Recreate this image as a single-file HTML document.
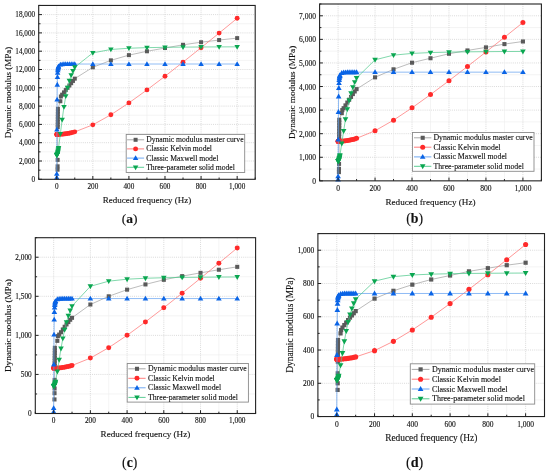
<!DOCTYPE html>
<html><head><meta charset="utf-8"><title>Dynamic modulus figure</title>
<style>
html,body{margin:0;padding:0;background:#fff;}
body{width:550px;height:472px;overflow:hidden;}
svg{display:block;}
.t{font-family:"Liberation Serif","Times New Roman",serif;fill:#111;stroke:#111;stroke-width:0.12px;}
</style></head><body>
<svg width="550" height="472" viewBox="0 0 550 472">
<rect width="550" height="472" fill="#fff"/>
<line x1="38.7" y1="170.15" x2="255.2" y2="170.15" stroke="#ececec" stroke-width="0.6"/>
<line x1="38.7" y1="161" x2="255.2" y2="161" stroke="#d0d0d0" stroke-width="0.8" stroke-dasharray="1 1.1"/>
<line x1="38.7" y1="151.85" x2="255.2" y2="151.85" stroke="#ececec" stroke-width="0.6"/>
<line x1="38.7" y1="142.7" x2="255.2" y2="142.7" stroke="#d0d0d0" stroke-width="0.8" stroke-dasharray="1 1.1"/>
<line x1="38.7" y1="133.55" x2="255.2" y2="133.55" stroke="#ececec" stroke-width="0.6"/>
<line x1="38.7" y1="124.4" x2="255.2" y2="124.4" stroke="#d0d0d0" stroke-width="0.8" stroke-dasharray="1 1.1"/>
<line x1="38.7" y1="115.25" x2="255.2" y2="115.25" stroke="#ececec" stroke-width="0.6"/>
<line x1="38.7" y1="106.1" x2="255.2" y2="106.1" stroke="#d0d0d0" stroke-width="0.8" stroke-dasharray="1 1.1"/>
<line x1="38.7" y1="96.95" x2="255.2" y2="96.95" stroke="#ececec" stroke-width="0.6"/>
<line x1="38.7" y1="87.8" x2="255.2" y2="87.8" stroke="#d0d0d0" stroke-width="0.8" stroke-dasharray="1 1.1"/>
<line x1="38.7" y1="78.65" x2="255.2" y2="78.65" stroke="#ececec" stroke-width="0.6"/>
<line x1="38.7" y1="69.5" x2="255.2" y2="69.5" stroke="#d0d0d0" stroke-width="0.8" stroke-dasharray="1 1.1"/>
<line x1="38.7" y1="60.35" x2="255.2" y2="60.35" stroke="#ececec" stroke-width="0.6"/>
<line x1="38.7" y1="51.2" x2="255.2" y2="51.2" stroke="#d0d0d0" stroke-width="0.8" stroke-dasharray="1 1.1"/>
<line x1="38.7" y1="42.05" x2="255.2" y2="42.05" stroke="#ececec" stroke-width="0.6"/>
<line x1="38.7" y1="32.9" x2="255.2" y2="32.9" stroke="#d0d0d0" stroke-width="0.8" stroke-dasharray="1 1.1"/>
<line x1="38.7" y1="23.75" x2="255.2" y2="23.75" stroke="#ececec" stroke-width="0.6"/>
<line x1="38.7" y1="14.6" x2="255.2" y2="14.6" stroke="#d0d0d0" stroke-width="0.8" stroke-dasharray="1 1.1"/>
<line x1="56.74" y1="5.45" x2="56.74" y2="179.3" stroke="#d0d0d0" stroke-width="0.8" stroke-dasharray="1 1.1"/>
<line x1="74.78" y1="5.45" x2="74.78" y2="179.3" stroke="#ececec" stroke-width="0.6"/>
<line x1="92.83" y1="5.45" x2="92.83" y2="179.3" stroke="#d0d0d0" stroke-width="0.8" stroke-dasharray="1 1.1"/>
<line x1="110.87" y1="5.45" x2="110.87" y2="179.3" stroke="#ececec" stroke-width="0.6"/>
<line x1="128.91" y1="5.45" x2="128.91" y2="179.3" stroke="#d0d0d0" stroke-width="0.8" stroke-dasharray="1 1.1"/>
<line x1="146.95" y1="5.45" x2="146.95" y2="179.3" stroke="#ececec" stroke-width="0.6"/>
<line x1="164.99" y1="5.45" x2="164.99" y2="179.3" stroke="#d0d0d0" stroke-width="0.8" stroke-dasharray="1 1.1"/>
<line x1="183.03" y1="5.45" x2="183.03" y2="179.3" stroke="#ececec" stroke-width="0.6"/>
<line x1="201.07" y1="5.45" x2="201.07" y2="179.3" stroke="#d0d0d0" stroke-width="0.8" stroke-dasharray="1 1.1"/>
<line x1="219.12" y1="5.45" x2="219.12" y2="179.3" stroke="#ececec" stroke-width="0.6"/>
<line x1="237.16" y1="5.45" x2="237.16" y2="179.3" stroke="#d0d0d0" stroke-width="0.8" stroke-dasharray="1 1.1"/>
<polyline points="57.55,169.69 57.61,166.31 57.66,159.9 57.73,127.15 57.76,124.53 57.79,121.92 57.82,119.3 57.84,116.69 57.87,114.07 57.9,111.46 57.92,108.84 60.35,101.25 60.89,96.49 62.15,94.66 63.96,92.38 65.76,90.09 67.57,87.8 69.37,85.51 71.18,83.22 72.98,80.94 74.78,78.65 92.83,67.3 110.87,60.35 128.91,55.13 146.95,51.29 164.99,48 183.03,44.79 201.07,42.23 219.12,40.04 237.16,38.12" fill="none" stroke="#a0a0a0" stroke-width="0.7"/>
<rect x="55.55" y="167.69" width="4" height="4" fill="#5a5a5a"/>
<rect x="55.61" y="164.31" width="4" height="4" fill="#5a5a5a"/>
<rect x="55.66" y="157.9" width="4" height="4" fill="#5a5a5a"/>
<rect x="55.73" y="125.15" width="4" height="4" fill="#5a5a5a"/>
<rect x="55.76" y="122.53" width="4" height="4" fill="#5a5a5a"/>
<rect x="55.79" y="119.92" width="4" height="4" fill="#5a5a5a"/>
<rect x="55.82" y="117.3" width="4" height="4" fill="#5a5a5a"/>
<rect x="55.84" y="114.69" width="4" height="4" fill="#5a5a5a"/>
<rect x="55.87" y="112.07" width="4" height="4" fill="#5a5a5a"/>
<rect x="55.9" y="109.46" width="4" height="4" fill="#5a5a5a"/>
<rect x="55.92" y="106.84" width="4" height="4" fill="#5a5a5a"/>
<rect x="58.35" y="99.25" width="4" height="4" fill="#5a5a5a"/>
<rect x="58.89" y="94.49" width="4" height="4" fill="#5a5a5a"/>
<rect x="60.15" y="92.66" width="4" height="4" fill="#5a5a5a"/>
<rect x="61.96" y="90.38" width="4" height="4" fill="#5a5a5a"/>
<rect x="63.76" y="88.09" width="4" height="4" fill="#5a5a5a"/>
<rect x="65.57" y="85.8" width="4" height="4" fill="#5a5a5a"/>
<rect x="67.37" y="83.51" width="4" height="4" fill="#5a5a5a"/>
<rect x="69.18" y="81.22" width="4" height="4" fill="#5a5a5a"/>
<rect x="70.98" y="78.94" width="4" height="4" fill="#5a5a5a"/>
<rect x="72.78" y="76.65" width="4" height="4" fill="#5a5a5a"/>
<rect x="90.83" y="65.3" width="4" height="4" fill="#5a5a5a"/>
<rect x="108.87" y="58.35" width="4" height="4" fill="#5a5a5a"/>
<rect x="126.91" y="53.13" width="4" height="4" fill="#5a5a5a"/>
<rect x="144.95" y="49.29" width="4" height="4" fill="#5a5a5a"/>
<rect x="162.99" y="46" width="4" height="4" fill="#5a5a5a"/>
<rect x="181.03" y="42.79" width="4" height="4" fill="#5a5a5a"/>
<rect x="199.07" y="40.23" width="4" height="4" fill="#5a5a5a"/>
<rect x="217.12" y="38.04" width="4" height="4" fill="#5a5a5a"/>
<rect x="235.16" y="36.12" width="4" height="4" fill="#5a5a5a"/>
<polyline points="56.75,134.46 56.76,134.46 56.92,134.46 57.1,134.46 57.28,134.46 57.46,134.46 57.64,134.46 57.82,134.46 58,134.45 58.19,134.45 58.37,134.44 58.55,134.44 60.35,134.36 62.15,134.23 63.96,134.04 65.76,133.8 67.57,133.52 69.37,133.18 71.18,132.79 72.98,132.35 74.78,131.87 92.83,124.83 110.87,114.78 128.91,102.91 146.95,89.92 164.99,76.25 183.03,62.14 201.07,47.72 219.12,33.08 237.16,18.3" fill="none" stroke="#ff7070" stroke-width="0.7"/>
<circle cx="56.75" cy="134.46" r="2.45" fill="#ff2a2a"/>
<circle cx="56.76" cy="134.46" r="2.45" fill="#ff2a2a"/>
<circle cx="56.92" cy="134.46" r="2.45" fill="#ff2a2a"/>
<circle cx="57.1" cy="134.46" r="2.45" fill="#ff2a2a"/>
<circle cx="57.28" cy="134.46" r="2.45" fill="#ff2a2a"/>
<circle cx="57.46" cy="134.46" r="2.45" fill="#ff2a2a"/>
<circle cx="57.64" cy="134.46" r="2.45" fill="#ff2a2a"/>
<circle cx="57.82" cy="134.46" r="2.45" fill="#ff2a2a"/>
<circle cx="58" cy="134.45" r="2.45" fill="#ff2a2a"/>
<circle cx="58.19" cy="134.45" r="2.45" fill="#ff2a2a"/>
<circle cx="58.37" cy="134.44" r="2.45" fill="#ff2a2a"/>
<circle cx="58.55" cy="134.44" r="2.45" fill="#ff2a2a"/>
<circle cx="60.35" cy="134.36" r="2.45" fill="#ff2a2a"/>
<circle cx="62.15" cy="134.23" r="2.45" fill="#ff2a2a"/>
<circle cx="63.96" cy="134.04" r="2.45" fill="#ff2a2a"/>
<circle cx="65.76" cy="133.8" r="2.45" fill="#ff2a2a"/>
<circle cx="67.57" cy="133.52" r="2.45" fill="#ff2a2a"/>
<circle cx="69.37" cy="133.18" r="2.45" fill="#ff2a2a"/>
<circle cx="71.18" cy="132.79" r="2.45" fill="#ff2a2a"/>
<circle cx="72.98" cy="132.35" r="2.45" fill="#ff2a2a"/>
<circle cx="74.78" cy="131.87" r="2.45" fill="#ff2a2a"/>
<circle cx="92.83" cy="124.83" r="2.45" fill="#ff2a2a"/>
<circle cx="110.87" cy="114.78" r="2.45" fill="#ff2a2a"/>
<circle cx="128.91" cy="102.91" r="2.45" fill="#ff2a2a"/>
<circle cx="146.95" cy="89.92" r="2.45" fill="#ff2a2a"/>
<circle cx="164.99" cy="76.25" r="2.45" fill="#ff2a2a"/>
<circle cx="183.03" cy="62.14" r="2.45" fill="#ff2a2a"/>
<circle cx="201.07" cy="47.72" r="2.45" fill="#ff2a2a"/>
<circle cx="219.12" cy="33.08" r="2.45" fill="#ff2a2a"/>
<circle cx="237.16" cy="18.3" r="2.45" fill="#ff2a2a"/>
<polyline points="56.75,177.65 56.76,173.8 56.92,129.58 57.1,99.63 57.28,84.73 57.46,77.14 57.64,72.94 57.82,70.44 58,68.84 58.19,67.76 58.37,67 58.55,66.45 60.35,64.64 62.15,64.29 63.96,64.17 65.76,64.11 67.57,64.08 69.37,64.06 71.18,64.05 72.98,64.04 74.78,64.04 92.83,64.02 110.87,64.01 128.91,64.01 146.95,64.01 164.99,64.01 183.03,64.01 201.07,64.01 219.12,64.01 237.16,64.01" fill="none" stroke="#62a0f0" stroke-width="0.7"/>
<path d="M56.75 174.77L59.5 179.57L54 179.57Z" fill="#0a64e6"/>
<path d="M56.76 170.92L59.51 175.72L54.01 175.72Z" fill="#0a64e6"/>
<path d="M56.92 126.7L59.67 131.5L54.17 131.5Z" fill="#0a64e6"/>
<path d="M57.1 96.75L59.85 101.55L54.35 101.55Z" fill="#0a64e6"/>
<path d="M57.28 81.85L60.03 86.65L54.53 86.65Z" fill="#0a64e6"/>
<path d="M57.46 74.26L60.21 79.06L54.71 79.06Z" fill="#0a64e6"/>
<path d="M57.64 70.06L60.39 74.86L54.89 74.86Z" fill="#0a64e6"/>
<path d="M57.82 67.56L60.57 72.36L55.07 72.36Z" fill="#0a64e6"/>
<path d="M58 65.96L60.75 70.76L55.25 70.76Z" fill="#0a64e6"/>
<path d="M58.19 64.88L60.94 69.68L55.44 69.68Z" fill="#0a64e6"/>
<path d="M58.37 64.12L61.12 68.92L55.62 68.92Z" fill="#0a64e6"/>
<path d="M58.55 63.57L61.3 68.37L55.8 68.37Z" fill="#0a64e6"/>
<path d="M60.35 61.76L63.1 66.56L57.6 66.56Z" fill="#0a64e6"/>
<path d="M62.15 61.41L64.9 66.21L59.4 66.21Z" fill="#0a64e6"/>
<path d="M63.96 61.29L66.71 66.09L61.21 66.09Z" fill="#0a64e6"/>
<path d="M65.76 61.23L68.51 66.03L63.01 66.03Z" fill="#0a64e6"/>
<path d="M67.57 61.2L70.32 66L64.82 66Z" fill="#0a64e6"/>
<path d="M69.37 61.18L72.12 65.98L66.62 65.98Z" fill="#0a64e6"/>
<path d="M71.18 61.17L73.93 65.97L68.43 65.97Z" fill="#0a64e6"/>
<path d="M72.98 61.16L75.73 65.96L70.23 65.96Z" fill="#0a64e6"/>
<path d="M74.78 61.16L77.53 65.96L72.03 65.96Z" fill="#0a64e6"/>
<path d="M92.83 61.14L95.58 65.94L90.08 65.94Z" fill="#0a64e6"/>
<path d="M110.87 61.13L113.62 65.93L108.12 65.93Z" fill="#0a64e6"/>
<path d="M128.91 61.13L131.66 65.93L126.16 65.93Z" fill="#0a64e6"/>
<path d="M146.95 61.13L149.7 65.93L144.2 65.93Z" fill="#0a64e6"/>
<path d="M164.99 61.13L167.74 65.93L162.24 65.93Z" fill="#0a64e6"/>
<path d="M183.03 61.13L185.78 65.93L180.28 65.93Z" fill="#0a64e6"/>
<path d="M201.07 61.13L203.82 65.93L198.32 65.93Z" fill="#0a64e6"/>
<path d="M219.12 61.13L221.87 65.93L216.37 65.93Z" fill="#0a64e6"/>
<path d="M237.16 61.13L239.91 65.93L234.41 65.93Z" fill="#0a64e6"/>
<polyline points="56.75,155.09 56.76,155.09 56.92,155.01 57.1,154.76 57.28,154.35 57.46,153.8 57.64,153.11 57.82,152.29 58,151.36 58.19,150.32 58.37,149.21 58.55,148.01 60.35,133.97 62.15,119.55 63.96,106.81 65.76,96.2 67.57,87.6 69.37,80.71 71.18,75.22 72.98,70.82 74.78,67.28 92.83,52.86 110.87,49.49 128.91,48.24 146.95,47.64 164.99,47.32 183.03,47.12 201.07,46.99 219.12,46.9 237.16,46.84" fill="none" stroke="#4cc88a" stroke-width="0.7"/>
<path d="M56.75 157.97L59.5 153.17L54 153.17Z" fill="#0aa650"/>
<path d="M56.76 157.97L59.51 153.17L54.01 153.17Z" fill="#0aa650"/>
<path d="M56.92 157.89L59.67 153.09L54.17 153.09Z" fill="#0aa650"/>
<path d="M57.1 157.64L59.85 152.84L54.35 152.84Z" fill="#0aa650"/>
<path d="M57.28 157.23L60.03 152.43L54.53 152.43Z" fill="#0aa650"/>
<path d="M57.46 156.68L60.21 151.88L54.71 151.88Z" fill="#0aa650"/>
<path d="M57.64 155.99L60.39 151.19L54.89 151.19Z" fill="#0aa650"/>
<path d="M57.82 155.17L60.57 150.37L55.07 150.37Z" fill="#0aa650"/>
<path d="M58 154.24L60.75 149.44L55.25 149.44Z" fill="#0aa650"/>
<path d="M58.19 153.2L60.94 148.4L55.44 148.4Z" fill="#0aa650"/>
<path d="M58.37 152.09L61.12 147.29L55.62 147.29Z" fill="#0aa650"/>
<path d="M58.55 150.89L61.3 146.09L55.8 146.09Z" fill="#0aa650"/>
<path d="M60.35 136.85L63.1 132.05L57.6 132.05Z" fill="#0aa650"/>
<path d="M62.15 122.43L64.9 117.63L59.4 117.63Z" fill="#0aa650"/>
<path d="M63.96 109.69L66.71 104.89L61.21 104.89Z" fill="#0aa650"/>
<path d="M65.76 99.08L68.51 94.28L63.01 94.28Z" fill="#0aa650"/>
<path d="M67.57 90.48L70.32 85.68L64.82 85.68Z" fill="#0aa650"/>
<path d="M69.37 83.59L72.12 78.79L66.62 78.79Z" fill="#0aa650"/>
<path d="M71.18 78.1L73.93 73.3L68.43 73.3Z" fill="#0aa650"/>
<path d="M72.98 73.7L75.73 68.9L70.23 68.9Z" fill="#0aa650"/>
<path d="M74.78 70.16L77.53 65.36L72.03 65.36Z" fill="#0aa650"/>
<path d="M92.83 55.74L95.58 50.94L90.08 50.94Z" fill="#0aa650"/>
<path d="M110.87 52.37L113.62 47.57L108.12 47.57Z" fill="#0aa650"/>
<path d="M128.91 51.12L131.66 46.32L126.16 46.32Z" fill="#0aa650"/>
<path d="M146.95 50.52L149.7 45.72L144.2 45.72Z" fill="#0aa650"/>
<path d="M164.99 50.2L167.74 45.4L162.24 45.4Z" fill="#0aa650"/>
<path d="M183.03 50L185.78 45.2L180.28 45.2Z" fill="#0aa650"/>
<path d="M201.07 49.87L203.82 45.07L198.32 45.07Z" fill="#0aa650"/>
<path d="M219.12 49.78L221.87 44.98L216.37 44.98Z" fill="#0aa650"/>
<path d="M237.16 49.72L239.91 44.92L234.41 44.92Z" fill="#0aa650"/>
<rect x="38.7" y="5.45" width="216.5" height="173.85" fill="none" stroke="#222" stroke-width="1.1"/>
<path d="M38.7 179.3h3.3M38.7 170.15h1.8M38.7 161h3.3M38.7 151.85h1.8M38.7 142.7h3.3M38.7 133.55h1.8M38.7 124.4h3.3M38.7 115.25h1.8M38.7 106.1h3.3M38.7 96.95h1.8M38.7 87.8h3.3M38.7 78.65h1.8M38.7 69.5h3.3M38.7 60.35h1.8M38.7 51.2h3.3M38.7 42.05h1.8M38.7 32.9h3.3M38.7 23.75h1.8M38.7 14.6h3.3M38.7 5.45h1.8M38.7 179.3v-1.8M56.74 179.3v-3.3M74.78 179.3v-1.8M92.83 179.3v-3.3M110.87 179.3v-1.8M128.91 179.3v-3.3M146.95 179.3v-1.8M164.99 179.3v-3.3M183.03 179.3v-1.8M201.07 179.3v-3.3M219.12 179.3v-1.8M237.16 179.3v-3.3M255.2 179.3v-1.8" stroke="#222" stroke-width="1"/>
<text x="35.1" y="182.08" font-size="7.2" text-anchor="end" class="t">0</text>
<text x="35.1" y="163.78" font-size="7.2" text-anchor="end" class="t">2,000</text>
<text x="35.1" y="145.48" font-size="7.2" text-anchor="end" class="t">4,000</text>
<text x="35.1" y="127.18" font-size="7.2" text-anchor="end" class="t">6,000</text>
<text x="35.1" y="108.88" font-size="7.2" text-anchor="end" class="t">8,000</text>
<text x="35.1" y="90.58" font-size="7.2" text-anchor="end" class="t">10,000</text>
<text x="35.1" y="72.28" font-size="7.2" text-anchor="end" class="t">12,000</text>
<text x="35.1" y="53.98" font-size="7.2" text-anchor="end" class="t">14,000</text>
<text x="35.1" y="35.68" font-size="7.2" text-anchor="end" class="t">16,000</text>
<text x="35.1" y="17.38" font-size="7.2" text-anchor="end" class="t">18,000</text>
<text x="56.74" y="188.88" font-size="7.2" text-anchor="middle" class="t">0</text>
<text x="92.83" y="188.88" font-size="7.2" text-anchor="middle" class="t">200</text>
<text x="128.91" y="188.88" font-size="7.2" text-anchor="middle" class="t">400</text>
<text x="164.99" y="188.88" font-size="7.2" text-anchor="middle" class="t">600</text>
<text x="201.07" y="188.88" font-size="7.2" text-anchor="middle" class="t">800</text>
<text x="237.16" y="188.88" font-size="7.2" text-anchor="middle" class="t">1,000</text>
<text x="0" y="0" font-size="9" text-anchor="middle" class="t" transform="translate(10.8 92.38) rotate(-90)">Dynamic modulus (MPa)</text>
<text x="146.95" y="203.1" font-size="9" text-anchor="middle" class="t">Reduced frequency (Hz)</text>
<text x="129.6" y="222.9" font-size="13.5" text-anchor="middle" class="t">(<tspan font-weight="bold">a</tspan>)</text>
<rect x="126.2" y="134.4" width="118.5" height="38.1" fill="#fff" stroke="#8a8a8a" stroke-width="0.9"/>
<line x1="127.1" y1="139.8" x2="144.1" y2="139.8" stroke="#a0a0a0" stroke-width="0.9"/>
<rect x="133.6" y="137.8" width="4" height="4" fill="#5a5a5a"/>
<text x="146.2" y="142.32" font-size="7.65" class="t">Dynamic modulus master curve</text>
<line x1="127.1" y1="148.9" x2="144.1" y2="148.9" stroke="#ff7070" stroke-width="0.9"/>
<circle cx="135.6" cy="148.9" r="2.45" fill="#ff2a2a"/>
<text x="146.2" y="151.42" font-size="7.65" class="t">Classic Kelvin model</text>
<line x1="127.1" y1="158.1" x2="144.1" y2="158.1" stroke="#62a0f0" stroke-width="0.9"/>
<path d="M135.6 155.22L138.35 160.02L132.85 160.02Z" fill="#0a64e6"/>
<text x="146.2" y="160.62" font-size="7.65" class="t">Classic Maxwell model</text>
<line x1="127.1" y1="167.3" x2="144.1" y2="167.3" stroke="#4cc88a" stroke-width="0.9"/>
<path d="M135.6 170.18L138.35 165.38L132.85 165.38Z" fill="#0aa650"/>
<text x="146.2" y="169.82" font-size="7.65" class="t">Three-parameter solid model</text>
<line x1="319.6" y1="169.06" x2="541.4" y2="169.06" stroke="#ececec" stroke-width="0.6"/>
<line x1="319.6" y1="157.27" x2="541.4" y2="157.27" stroke="#d0d0d0" stroke-width="0.8" stroke-dasharray="1 1.1"/>
<line x1="319.6" y1="145.48" x2="541.4" y2="145.48" stroke="#ececec" stroke-width="0.6"/>
<line x1="319.6" y1="133.69" x2="541.4" y2="133.69" stroke="#d0d0d0" stroke-width="0.8" stroke-dasharray="1 1.1"/>
<line x1="319.6" y1="121.9" x2="541.4" y2="121.9" stroke="#ececec" stroke-width="0.6"/>
<line x1="319.6" y1="110.11" x2="541.4" y2="110.11" stroke="#d0d0d0" stroke-width="0.8" stroke-dasharray="1 1.1"/>
<line x1="319.6" y1="98.32" x2="541.4" y2="98.32" stroke="#ececec" stroke-width="0.6"/>
<line x1="319.6" y1="86.53" x2="541.4" y2="86.53" stroke="#d0d0d0" stroke-width="0.8" stroke-dasharray="1 1.1"/>
<line x1="319.6" y1="74.74" x2="541.4" y2="74.74" stroke="#ececec" stroke-width="0.6"/>
<line x1="319.6" y1="62.95" x2="541.4" y2="62.95" stroke="#d0d0d0" stroke-width="0.8" stroke-dasharray="1 1.1"/>
<line x1="319.6" y1="51.16" x2="541.4" y2="51.16" stroke="#ececec" stroke-width="0.6"/>
<line x1="319.6" y1="39.37" x2="541.4" y2="39.37" stroke="#d0d0d0" stroke-width="0.8" stroke-dasharray="1 1.1"/>
<line x1="319.6" y1="27.58" x2="541.4" y2="27.58" stroke="#ececec" stroke-width="0.6"/>
<line x1="319.6" y1="15.79" x2="541.4" y2="15.79" stroke="#d0d0d0" stroke-width="0.8" stroke-dasharray="1 1.1"/>
<line x1="338.08" y1="4" x2="338.08" y2="180.85" stroke="#d0d0d0" stroke-width="0.8" stroke-dasharray="1 1.1"/>
<line x1="356.57" y1="4" x2="356.57" y2="180.85" stroke="#ececec" stroke-width="0.6"/>
<line x1="375.05" y1="4" x2="375.05" y2="180.85" stroke="#d0d0d0" stroke-width="0.8" stroke-dasharray="1 1.1"/>
<line x1="393.53" y1="4" x2="393.53" y2="180.85" stroke="#ececec" stroke-width="0.6"/>
<line x1="412.02" y1="4" x2="412.02" y2="180.85" stroke="#d0d0d0" stroke-width="0.8" stroke-dasharray="1 1.1"/>
<line x1="430.5" y1="4" x2="430.5" y2="180.85" stroke="#ececec" stroke-width="0.6"/>
<line x1="448.98" y1="4" x2="448.98" y2="180.85" stroke="#d0d0d0" stroke-width="0.8" stroke-dasharray="1 1.1"/>
<line x1="467.47" y1="4" x2="467.47" y2="180.85" stroke="#ececec" stroke-width="0.6"/>
<line x1="485.95" y1="4" x2="485.95" y2="180.85" stroke="#d0d0d0" stroke-width="0.8" stroke-dasharray="1 1.1"/>
<line x1="504.43" y1="4" x2="504.43" y2="180.85" stroke="#ececec" stroke-width="0.6"/>
<line x1="522.92" y1="4" x2="522.92" y2="180.85" stroke="#d0d0d0" stroke-width="0.8" stroke-dasharray="1 1.1"/>
<polyline points="338.92,172.13 338.97,168.82 339.03,163.87 339.1,139.58 339.13,136.76 339.16,133.93 339.18,131.1 339.21,128.27 339.24,125.44 339.27,122.61 339.29,119.78 341.78,113.18 342.33,110.11 343.63,108.22 345.48,105.39 347.33,102.56 349.17,99.73 351.02,96.91 352.87,94.08 354.72,91.48 356.57,89.12 375.05,77.33 393.53,69.32 412.02,62.71 430.5,58.23 448.98,53.75 467.47,50.45 485.95,47.39 504.43,44.09 522.92,41.49" fill="none" stroke="#a0a0a0" stroke-width="0.71"/>
<rect x="336.88" y="170.09" width="4.08" height="4.08" fill="#5a5a5a"/>
<rect x="336.93" y="166.78" width="4.08" height="4.08" fill="#5a5a5a"/>
<rect x="336.99" y="161.83" width="4.08" height="4.08" fill="#5a5a5a"/>
<rect x="337.06" y="137.54" width="4.08" height="4.08" fill="#5a5a5a"/>
<rect x="337.09" y="134.72" width="4.08" height="4.08" fill="#5a5a5a"/>
<rect x="337.12" y="131.89" width="4.08" height="4.08" fill="#5a5a5a"/>
<rect x="337.14" y="129.06" width="4.08" height="4.08" fill="#5a5a5a"/>
<rect x="337.17" y="126.23" width="4.08" height="4.08" fill="#5a5a5a"/>
<rect x="337.2" y="123.4" width="4.08" height="4.08" fill="#5a5a5a"/>
<rect x="337.23" y="120.57" width="4.08" height="4.08" fill="#5a5a5a"/>
<rect x="337.25" y="117.74" width="4.08" height="4.08" fill="#5a5a5a"/>
<rect x="339.74" y="111.14" width="4.08" height="4.08" fill="#5a5a5a"/>
<rect x="340.29" y="108.07" width="4.08" height="4.08" fill="#5a5a5a"/>
<rect x="341.59" y="106.18" width="4.08" height="4.08" fill="#5a5a5a"/>
<rect x="343.44" y="103.35" width="4.08" height="4.08" fill="#5a5a5a"/>
<rect x="345.29" y="100.52" width="4.08" height="4.08" fill="#5a5a5a"/>
<rect x="347.13" y="97.69" width="4.08" height="4.08" fill="#5a5a5a"/>
<rect x="348.98" y="94.87" width="4.08" height="4.08" fill="#5a5a5a"/>
<rect x="350.83" y="92.04" width="4.08" height="4.08" fill="#5a5a5a"/>
<rect x="352.68" y="89.44" width="4.08" height="4.08" fill="#5a5a5a"/>
<rect x="354.53" y="87.08" width="4.08" height="4.08" fill="#5a5a5a"/>
<rect x="373.01" y="75.29" width="4.08" height="4.08" fill="#5a5a5a"/>
<rect x="391.49" y="67.28" width="4.08" height="4.08" fill="#5a5a5a"/>
<rect x="409.98" y="60.67" width="4.08" height="4.08" fill="#5a5a5a"/>
<rect x="428.46" y="56.19" width="4.08" height="4.08" fill="#5a5a5a"/>
<rect x="446.94" y="51.71" width="4.08" height="4.08" fill="#5a5a5a"/>
<rect x="465.43" y="48.41" width="4.08" height="4.08" fill="#5a5a5a"/>
<rect x="483.91" y="45.35" width="4.08" height="4.08" fill="#5a5a5a"/>
<rect x="502.39" y="42.05" width="4.08" height="4.08" fill="#5a5a5a"/>
<rect x="520.88" y="39.45" width="4.08" height="4.08" fill="#5a5a5a"/>
<polyline points="338.09,141.24 338.1,141.24 338.27,141.24 338.45,141.23 338.64,141.23 338.82,141.23 339.01,141.23 339.19,141.22 339.38,141.22 339.56,141.22 339.75,141.21 339.93,141.21 341.78,141.12 343.63,140.97 345.48,140.76 347.33,140.5 349.17,140.18 351.02,139.81 352.87,139.38 354.72,138.9 356.57,138.37 375.05,130.76 393.53,120.16 412.02,107.86 430.5,94.58 448.98,80.72 467.47,66.48 485.95,51.99 504.43,37.33 522.92,22.54" fill="none" stroke="#ff7070" stroke-width="0.71"/>
<circle cx="338.09" cy="141.24" r="2.5" fill="#ff2a2a"/>
<circle cx="338.1" cy="141.24" r="2.5" fill="#ff2a2a"/>
<circle cx="338.27" cy="141.24" r="2.5" fill="#ff2a2a"/>
<circle cx="338.45" cy="141.23" r="2.5" fill="#ff2a2a"/>
<circle cx="338.64" cy="141.23" r="2.5" fill="#ff2a2a"/>
<circle cx="338.82" cy="141.23" r="2.5" fill="#ff2a2a"/>
<circle cx="339.01" cy="141.23" r="2.5" fill="#ff2a2a"/>
<circle cx="339.19" cy="141.22" r="2.5" fill="#ff2a2a"/>
<circle cx="339.38" cy="141.22" r="2.5" fill="#ff2a2a"/>
<circle cx="339.56" cy="141.22" r="2.5" fill="#ff2a2a"/>
<circle cx="339.75" cy="141.21" r="2.5" fill="#ff2a2a"/>
<circle cx="339.93" cy="141.21" r="2.5" fill="#ff2a2a"/>
<circle cx="341.78" cy="141.12" r="2.5" fill="#ff2a2a"/>
<circle cx="343.63" cy="140.97" r="2.5" fill="#ff2a2a"/>
<circle cx="345.48" cy="140.76" r="2.5" fill="#ff2a2a"/>
<circle cx="347.33" cy="140.5" r="2.5" fill="#ff2a2a"/>
<circle cx="349.17" cy="140.18" r="2.5" fill="#ff2a2a"/>
<circle cx="351.02" cy="139.81" r="2.5" fill="#ff2a2a"/>
<circle cx="352.87" cy="139.38" r="2.5" fill="#ff2a2a"/>
<circle cx="354.72" cy="138.9" r="2.5" fill="#ff2a2a"/>
<circle cx="356.57" cy="138.37" r="2.5" fill="#ff2a2a"/>
<circle cx="375.05" cy="130.76" r="2.5" fill="#ff2a2a"/>
<circle cx="393.53" cy="120.16" r="2.5" fill="#ff2a2a"/>
<circle cx="412.02" cy="107.86" r="2.5" fill="#ff2a2a"/>
<circle cx="430.5" cy="94.58" r="2.5" fill="#ff2a2a"/>
<circle cx="448.98" cy="80.72" r="2.5" fill="#ff2a2a"/>
<circle cx="467.47" cy="66.48" r="2.5" fill="#ff2a2a"/>
<circle cx="485.95" cy="51.99" r="2.5" fill="#ff2a2a"/>
<circle cx="504.43" cy="37.33" r="2.5" fill="#ff2a2a"/>
<circle cx="522.92" cy="22.54" r="2.5" fill="#ff2a2a"/>
<polyline points="338.09,179.51 338.1,176.4 338.27,139.61 338.45,111.92 338.64,96.5 338.82,88.04 339.01,83.15 339.19,80.15 339.38,78.2 339.56,76.87 339.75,75.93 339.93,75.24 341.78,72.95 343.63,72.5 345.48,72.35 347.33,72.28 349.17,72.24 351.02,72.21 352.87,72.2 354.72,72.19 356.57,72.18 375.05,72.15 393.53,72.15 412.02,72.15 430.5,72.15 448.98,72.15 467.47,72.15 485.95,72.15 504.43,72.15 522.92,72.15" fill="none" stroke="#62a0f0" stroke-width="0.71"/>
<path d="M338.09 176.58L340.89 181.47L335.28 181.47Z" fill="#0a64e6"/>
<path d="M338.1 173.46L340.91 178.36L335.3 178.36Z" fill="#0a64e6"/>
<path d="M338.27 136.68L341.07 141.57L335.46 141.57Z" fill="#0a64e6"/>
<path d="M338.45 108.99L341.26 113.88L335.65 113.88Z" fill="#0a64e6"/>
<path d="M338.64 93.57L341.44 98.46L335.83 98.46Z" fill="#0a64e6"/>
<path d="M338.82 85.1L341.63 90L336.02 90Z" fill="#0a64e6"/>
<path d="M339.01 80.21L341.81 85.11L336.2 85.11Z" fill="#0a64e6"/>
<path d="M339.19 77.21L342 82.11L336.39 82.11Z" fill="#0a64e6"/>
<path d="M339.38 75.26L342.18 80.16L336.57 80.16Z" fill="#0a64e6"/>
<path d="M339.56 73.93L342.37 78.83L336.76 78.83Z" fill="#0a64e6"/>
<path d="M339.75 72.99L342.55 77.89L336.94 77.89Z" fill="#0a64e6"/>
<path d="M339.93 72.3L342.74 77.2L337.13 77.2Z" fill="#0a64e6"/>
<path d="M341.78 70.01L344.59 74.9L338.98 74.9Z" fill="#0a64e6"/>
<path d="M343.63 69.57L346.43 74.46L340.82 74.46Z" fill="#0a64e6"/>
<path d="M345.48 69.41L348.28 74.31L342.67 74.31Z" fill="#0a64e6"/>
<path d="M347.33 69.34L350.13 74.23L344.52 74.23Z" fill="#0a64e6"/>
<path d="M349.17 69.3L351.98 74.19L346.37 74.19Z" fill="#0a64e6"/>
<path d="M351.02 69.27L353.83 74.17L348.22 74.17Z" fill="#0a64e6"/>
<path d="M352.87 69.26L355.68 74.16L350.06 74.16Z" fill="#0a64e6"/>
<path d="M354.72 69.25L357.52 74.14L351.91 74.14Z" fill="#0a64e6"/>
<path d="M356.57 69.24L359.37 74.14L353.76 74.14Z" fill="#0a64e6"/>
<path d="M375.05 69.22L377.86 74.11L372.25 74.11Z" fill="#0a64e6"/>
<path d="M393.53 69.21L396.34 74.11L390.73 74.11Z" fill="#0a64e6"/>
<path d="M412.02 69.21L414.82 74.11L409.21 74.11Z" fill="#0a64e6"/>
<path d="M430.5 69.21L433.31 74.11L427.69 74.11Z" fill="#0a64e6"/>
<path d="M448.98 69.21L451.79 74.11L446.18 74.11Z" fill="#0a64e6"/>
<path d="M467.47 69.21L470.27 74.11L464.66 74.11Z" fill="#0a64e6"/>
<path d="M485.95 69.21L488.75 74.11L483.14 74.11Z" fill="#0a64e6"/>
<path d="M504.43 69.21L507.24 74.1L501.63 74.1Z" fill="#0a64e6"/>
<path d="M522.92 69.21L525.72 74.1L520.11 74.1Z" fill="#0a64e6"/>
<polyline points="338.09,161.13 338.1,161.12 338.27,161.06 338.45,160.86 338.64,160.52 338.82,160.07 339.01,159.5 339.19,158.83 339.38,158.06 339.56,157.21 339.75,156.29 339.93,155.31 341.78,143.51 343.63,130.94 345.48,119.3 347.33,109.11 349.17,100.43 351.02,93.16 352.87,87.13 354.72,82.13 356.57,77.99 375.05,59.8 393.53,55.17 412.02,53.42 430.5,52.59 448.98,52.13 467.47,51.84 485.95,51.66 504.43,51.53 522.92,51.44" fill="none" stroke="#4cc88a" stroke-width="0.71"/>
<path d="M338.09 164.06L340.89 159.17L335.28 159.17Z" fill="#0aa650"/>
<path d="M338.1 164.06L340.91 159.17L335.3 159.17Z" fill="#0aa650"/>
<path d="M338.27 164L341.07 159.1L335.46 159.1Z" fill="#0aa650"/>
<path d="M338.45 163.79L341.26 158.9L335.65 158.9Z" fill="#0aa650"/>
<path d="M338.64 163.46L341.44 158.57L335.83 158.57Z" fill="#0aa650"/>
<path d="M338.82 163.01L341.63 158.11L336.02 158.11Z" fill="#0aa650"/>
<path d="M339.01 162.44L341.81 157.54L336.2 157.54Z" fill="#0aa650"/>
<path d="M339.19 161.77L342 156.87L336.39 156.87Z" fill="#0aa650"/>
<path d="M339.38 161L342.18 156.11L336.57 156.11Z" fill="#0aa650"/>
<path d="M339.56 160.15L342.37 155.26L336.76 155.26Z" fill="#0aa650"/>
<path d="M339.75 159.23L342.55 154.33L336.94 154.33Z" fill="#0aa650"/>
<path d="M339.93 158.24L342.74 153.35L337.13 153.35Z" fill="#0aa650"/>
<path d="M341.78 146.44L344.59 141.55L338.98 141.55Z" fill="#0aa650"/>
<path d="M343.63 133.88L346.43 128.98L340.82 128.98Z" fill="#0aa650"/>
<path d="M345.48 122.24L348.28 117.35L342.67 117.35Z" fill="#0aa650"/>
<path d="M347.33 112.04L350.13 107.15L344.52 107.15Z" fill="#0aa650"/>
<path d="M349.17 103.37L351.98 98.47L346.37 98.47Z" fill="#0aa650"/>
<path d="M351.02 96.1L353.83 91.21L348.22 91.21Z" fill="#0aa650"/>
<path d="M352.87 90.07L355.68 85.17L350.06 85.17Z" fill="#0aa650"/>
<path d="M354.72 85.07L357.52 80.17L351.91 80.17Z" fill="#0aa650"/>
<path d="M356.57 80.92L359.37 76.03L353.76 76.03Z" fill="#0aa650"/>
<path d="M375.05 62.73L377.86 57.84L372.25 57.84Z" fill="#0aa650"/>
<path d="M393.53 58.11L396.34 53.22L390.73 53.22Z" fill="#0aa650"/>
<path d="M412.02 56.36L414.82 51.47L409.21 51.47Z" fill="#0aa650"/>
<path d="M430.5 55.52L433.31 50.63L427.69 50.63Z" fill="#0aa650"/>
<path d="M448.98 55.06L451.79 50.17L446.18 50.17Z" fill="#0aa650"/>
<path d="M467.47 54.78L470.27 49.89L464.66 49.89Z" fill="#0aa650"/>
<path d="M485.95 54.6L488.75 49.7L483.14 49.7Z" fill="#0aa650"/>
<path d="M504.43 54.47L507.24 49.58L501.63 49.58Z" fill="#0aa650"/>
<path d="M522.92 54.38L525.72 49.49L520.11 49.49Z" fill="#0aa650"/>
<rect x="319.6" y="4" width="221.8" height="176.85" fill="none" stroke="#222" stroke-width="1.1"/>
<path d="M319.6 180.85h3.3M319.6 169.06h1.8M319.6 157.27h3.3M319.6 145.48h1.8M319.6 133.69h3.3M319.6 121.9h1.8M319.6 110.11h3.3M319.6 98.32h1.8M319.6 86.53h3.3M319.6 74.74h1.8M319.6 62.95h3.3M319.6 51.16h1.8M319.6 39.37h3.3M319.6 27.58h1.8M319.6 15.79h3.3M319.6 4h1.8M319.6 180.85v-1.8M338.08 180.85v-3.3M356.57 180.85v-1.8M375.05 180.85v-3.3M393.53 180.85v-1.8M412.02 180.85v-3.3M430.5 180.85v-1.8M448.98 180.85v-3.3M467.47 180.85v-1.8M485.95 180.85v-3.3M504.43 180.85v-1.8M522.92 180.85v-3.3M541.4 180.85v-1.8" stroke="#222" stroke-width="1"/>
<text x="316" y="183.84" font-size="7.55" text-anchor="end" class="t">0</text>
<text x="316" y="160.26" font-size="7.55" text-anchor="end" class="t">1,000</text>
<text x="316" y="136.68" font-size="7.55" text-anchor="end" class="t">2,000</text>
<text x="316" y="113.1" font-size="7.55" text-anchor="end" class="t">3,000</text>
<text x="316" y="89.52" font-size="7.55" text-anchor="end" class="t">4,000</text>
<text x="316" y="65.94" font-size="7.55" text-anchor="end" class="t">5,000</text>
<text x="316" y="42.36" font-size="7.55" text-anchor="end" class="t">6,000</text>
<text x="316" y="18.78" font-size="7.55" text-anchor="end" class="t">7,000</text>
<text x="338.08" y="191.14" font-size="7.55" text-anchor="middle" class="t">0</text>
<text x="375.05" y="191.14" font-size="7.55" text-anchor="middle" class="t">200</text>
<text x="412.02" y="191.14" font-size="7.55" text-anchor="middle" class="t">400</text>
<text x="448.98" y="191.14" font-size="7.55" text-anchor="middle" class="t">600</text>
<text x="485.95" y="191.14" font-size="7.55" text-anchor="middle" class="t">800</text>
<text x="522.92" y="191.14" font-size="7.55" text-anchor="middle" class="t">1,000</text>
<text x="0" y="0" font-size="9.18" text-anchor="middle" class="t" transform="translate(295 92.42) rotate(-90)">Dynamic modulus (MPa)</text>
<text x="430.5" y="204.5" font-size="9.18" text-anchor="middle" class="t">Reduced frequency (Hz)</text>
<text x="414.7" y="222.8" font-size="13.77" text-anchor="middle" class="t">(<tspan font-weight="bold">b</tspan>)</text>
<rect x="412.5" y="132.5" width="121.5" height="38.8" fill="#fff" stroke="#8a8a8a" stroke-width="0.9"/>
<line x1="414.03" y1="137.8" x2="431.37" y2="137.8" stroke="#a0a0a0" stroke-width="0.92"/>
<rect x="420.66" y="135.76" width="4.08" height="4.08" fill="#5a5a5a"/>
<text x="433.4" y="140.37" font-size="7.8" class="t">Dynamic modulus master curve</text>
<line x1="414.03" y1="147.2" x2="431.37" y2="147.2" stroke="#ff7070" stroke-width="0.92"/>
<circle cx="422.7" cy="147.2" r="2.5" fill="#ff2a2a"/>
<text x="433.4" y="149.77" font-size="7.8" class="t">Classic Kelvin model</text>
<line x1="414.03" y1="156.9" x2="431.37" y2="156.9" stroke="#62a0f0" stroke-width="0.92"/>
<path d="M422.7 153.96L425.5 158.86L419.89 158.86Z" fill="#0a64e6"/>
<text x="433.4" y="159.47" font-size="7.8" class="t">Classic Maxwell model</text>
<line x1="414.03" y1="166.3" x2="431.37" y2="166.3" stroke="#4cc88a" stroke-width="0.92"/>
<path d="M422.7 169.24L425.5 164.34L419.89 164.34Z" fill="#0aa650"/>
<text x="433.4" y="168.87" font-size="7.8" class="t">Three-parameter solid model</text>
<line x1="35.3" y1="393.97" x2="255.6" y2="393.97" stroke="#ececec" stroke-width="0.6"/>
<line x1="35.3" y1="374.43" x2="255.6" y2="374.43" stroke="#d0d0d0" stroke-width="0.8" stroke-dasharray="1 1.1"/>
<line x1="35.3" y1="354.9" x2="255.6" y2="354.9" stroke="#ececec" stroke-width="0.6"/>
<line x1="35.3" y1="335.37" x2="255.6" y2="335.37" stroke="#d0d0d0" stroke-width="0.8" stroke-dasharray="1 1.1"/>
<line x1="35.3" y1="315.83" x2="255.6" y2="315.83" stroke="#ececec" stroke-width="0.6"/>
<line x1="35.3" y1="296.3" x2="255.6" y2="296.3" stroke="#d0d0d0" stroke-width="0.8" stroke-dasharray="1 1.1"/>
<line x1="35.3" y1="276.77" x2="255.6" y2="276.77" stroke="#ececec" stroke-width="0.6"/>
<line x1="35.3" y1="257.23" x2="255.6" y2="257.23" stroke="#d0d0d0" stroke-width="0.8" stroke-dasharray="1 1.1"/>
<line x1="53.66" y1="237.7" x2="53.66" y2="413.5" stroke="#d0d0d0" stroke-width="0.8" stroke-dasharray="1 1.1"/>
<line x1="72.02" y1="237.7" x2="72.02" y2="413.5" stroke="#ececec" stroke-width="0.6"/>
<line x1="90.38" y1="237.7" x2="90.38" y2="413.5" stroke="#d0d0d0" stroke-width="0.8" stroke-dasharray="1 1.1"/>
<line x1="108.73" y1="237.7" x2="108.73" y2="413.5" stroke="#ececec" stroke-width="0.6"/>
<line x1="127.09" y1="237.7" x2="127.09" y2="413.5" stroke="#d0d0d0" stroke-width="0.8" stroke-dasharray="1 1.1"/>
<line x1="145.45" y1="237.7" x2="145.45" y2="413.5" stroke="#ececec" stroke-width="0.6"/>
<line x1="163.81" y1="237.7" x2="163.81" y2="413.5" stroke="#d0d0d0" stroke-width="0.8" stroke-dasharray="1 1.1"/>
<line x1="182.17" y1="237.7" x2="182.17" y2="413.5" stroke="#ececec" stroke-width="0.6"/>
<line x1="200.52" y1="237.7" x2="200.52" y2="413.5" stroke="#d0d0d0" stroke-width="0.8" stroke-dasharray="1 1.1"/>
<line x1="218.88" y1="237.7" x2="218.88" y2="413.5" stroke="#ececec" stroke-width="0.6"/>
<line x1="237.24" y1="237.7" x2="237.24" y2="413.5" stroke="#d0d0d0" stroke-width="0.8" stroke-dasharray="1 1.1"/>
<polyline points="54.48,399.44 54.54,393.19 54.59,388.5 54.65,379.9 54.67,365.84 54.7,363.27 54.72,360.7 54.75,358.14 54.78,355.57 54.81,353 54.83,350.44 54.86,347.87 57.33,340.84 57.88,336.15 59.17,334.59 61,332.24 62.84,329.51 64.67,326.77 66.51,324.43 68.34,322.08 70.18,319.74 72.02,317.79 90.38,304.5 108.73,296.3 127.09,289.66 145.45,284.42 163.81,279.81 182.17,276.14 200.52,272.86 218.88,269.73 237.24,266.84" fill="none" stroke="#a0a0a0" stroke-width="0.71"/>
<rect x="52.45" y="397.41" width="4.06" height="4.06" fill="#5a5a5a"/>
<rect x="52.51" y="391.16" width="4.06" height="4.06" fill="#5a5a5a"/>
<rect x="52.56" y="386.47" width="4.06" height="4.06" fill="#5a5a5a"/>
<rect x="52.62" y="377.87" width="4.06" height="4.06" fill="#5a5a5a"/>
<rect x="52.64" y="363.81" width="4.06" height="4.06" fill="#5a5a5a"/>
<rect x="52.67" y="361.24" width="4.06" height="4.06" fill="#5a5a5a"/>
<rect x="52.69" y="358.67" width="4.06" height="4.06" fill="#5a5a5a"/>
<rect x="52.72" y="356.11" width="4.06" height="4.06" fill="#5a5a5a"/>
<rect x="52.75" y="353.54" width="4.06" height="4.06" fill="#5a5a5a"/>
<rect x="52.78" y="350.97" width="4.06" height="4.06" fill="#5a5a5a"/>
<rect x="52.8" y="348.41" width="4.06" height="4.06" fill="#5a5a5a"/>
<rect x="52.83" y="345.84" width="4.06" height="4.06" fill="#5a5a5a"/>
<rect x="55.3" y="338.81" width="4.06" height="4.06" fill="#5a5a5a"/>
<rect x="55.85" y="334.12" width="4.06" height="4.06" fill="#5a5a5a"/>
<rect x="57.14" y="332.56" width="4.06" height="4.06" fill="#5a5a5a"/>
<rect x="58.97" y="330.21" width="4.06" height="4.06" fill="#5a5a5a"/>
<rect x="60.81" y="327.48" width="4.06" height="4.06" fill="#5a5a5a"/>
<rect x="62.64" y="324.74" width="4.06" height="4.06" fill="#5a5a5a"/>
<rect x="64.48" y="322.4" width="4.06" height="4.06" fill="#5a5a5a"/>
<rect x="66.31" y="320.05" width="4.06" height="4.06" fill="#5a5a5a"/>
<rect x="68.15" y="317.71" width="4.06" height="4.06" fill="#5a5a5a"/>
<rect x="69.99" y="315.76" width="4.06" height="4.06" fill="#5a5a5a"/>
<rect x="88.34" y="302.47" width="4.06" height="4.06" fill="#5a5a5a"/>
<rect x="106.7" y="294.27" width="4.06" height="4.06" fill="#5a5a5a"/>
<rect x="125.06" y="287.63" width="4.06" height="4.06" fill="#5a5a5a"/>
<rect x="143.42" y="282.39" width="4.06" height="4.06" fill="#5a5a5a"/>
<rect x="161.78" y="277.78" width="4.06" height="4.06" fill="#5a5a5a"/>
<rect x="180.14" y="274.11" width="4.06" height="4.06" fill="#5a5a5a"/>
<rect x="198.49" y="270.83" width="4.06" height="4.06" fill="#5a5a5a"/>
<rect x="216.85" y="267.7" width="4.06" height="4.06" fill="#5a5a5a"/>
<rect x="235.21" y="264.81" width="4.06" height="4.06" fill="#5a5a5a"/>
<polyline points="53.66,368.18 53.68,368.18 53.84,368.18 54.03,368.18 54.21,368.18 54.39,368.18 54.58,368.18 54.76,368.17 54.94,368.17 55.13,368.16 55.31,368.16 55.49,368.15 57.33,368.07 59.17,367.93 61,367.74 62.84,367.49 64.67,367.19 66.51,366.83 68.34,366.43 70.18,365.97 72.02,365.47 90.38,358.11 108.73,347.65 127.09,335.33 145.45,321.89 163.81,307.76 182.17,293.17 200.52,278.29 218.88,263.19 237.24,247.94" fill="none" stroke="#ff7070" stroke-width="0.71"/>
<circle cx="53.66" cy="368.18" r="2.49" fill="#ff2a2a"/>
<circle cx="53.68" cy="368.18" r="2.49" fill="#ff2a2a"/>
<circle cx="53.84" cy="368.18" r="2.49" fill="#ff2a2a"/>
<circle cx="54.03" cy="368.18" r="2.49" fill="#ff2a2a"/>
<circle cx="54.21" cy="368.18" r="2.49" fill="#ff2a2a"/>
<circle cx="54.39" cy="368.18" r="2.49" fill="#ff2a2a"/>
<circle cx="54.58" cy="368.18" r="2.49" fill="#ff2a2a"/>
<circle cx="54.76" cy="368.17" r="2.49" fill="#ff2a2a"/>
<circle cx="54.94" cy="368.17" r="2.49" fill="#ff2a2a"/>
<circle cx="55.13" cy="368.16" r="2.49" fill="#ff2a2a"/>
<circle cx="55.31" cy="368.16" r="2.49" fill="#ff2a2a"/>
<circle cx="55.49" cy="368.15" r="2.49" fill="#ff2a2a"/>
<circle cx="57.33" cy="368.07" r="2.49" fill="#ff2a2a"/>
<circle cx="59.17" cy="367.93" r="2.49" fill="#ff2a2a"/>
<circle cx="61" cy="367.74" r="2.49" fill="#ff2a2a"/>
<circle cx="62.84" cy="367.49" r="2.49" fill="#ff2a2a"/>
<circle cx="64.67" cy="367.19" r="2.49" fill="#ff2a2a"/>
<circle cx="66.51" cy="366.83" r="2.49" fill="#ff2a2a"/>
<circle cx="68.34" cy="366.43" r="2.49" fill="#ff2a2a"/>
<circle cx="70.18" cy="365.97" r="2.49" fill="#ff2a2a"/>
<circle cx="72.02" cy="365.47" r="2.49" fill="#ff2a2a"/>
<circle cx="90.38" cy="358.11" r="2.49" fill="#ff2a2a"/>
<circle cx="108.73" cy="347.65" r="2.49" fill="#ff2a2a"/>
<circle cx="127.09" cy="335.33" r="2.49" fill="#ff2a2a"/>
<circle cx="145.45" cy="321.89" r="2.49" fill="#ff2a2a"/>
<circle cx="163.81" cy="307.76" r="2.49" fill="#ff2a2a"/>
<circle cx="182.17" cy="293.17" r="2.49" fill="#ff2a2a"/>
<circle cx="200.52" cy="278.29" r="2.49" fill="#ff2a2a"/>
<circle cx="218.88" cy="263.19" r="2.49" fill="#ff2a2a"/>
<circle cx="237.24" cy="247.94" r="2.49" fill="#ff2a2a"/>
<polyline points="53.66,411.87 53.68,408.08 53.84,364.44 54.03,334.6 54.21,319.62 54.39,311.93 54.58,307.67 54.76,305.12 54.94,303.49 55.13,302.4 55.31,301.62 55.49,301.06 57.33,299.21 59.17,298.85 61,298.73 62.84,298.67 64.67,298.64 66.51,298.62 68.34,298.61 70.18,298.6 72.02,298.59 90.38,298.57 108.73,298.57 127.09,298.57 145.45,298.57 163.81,298.57 182.17,298.57 200.52,298.57 218.88,298.57 237.24,298.57" fill="none" stroke="#62a0f0" stroke-width="0.71"/>
<path d="M53.66 408.95L56.46 413.82L50.87 413.82Z" fill="#0a64e6"/>
<path d="M53.68 405.16L56.47 410.03L50.89 410.03Z" fill="#0a64e6"/>
<path d="M53.84 361.52L56.63 366.39L51.05 366.39Z" fill="#0a64e6"/>
<path d="M54.03 331.68L56.82 336.55L51.23 336.55Z" fill="#0a64e6"/>
<path d="M54.21 316.69L57 321.57L51.42 321.57Z" fill="#0a64e6"/>
<path d="M54.39 309.01L57.18 313.88L51.6 313.88Z" fill="#0a64e6"/>
<path d="M54.58 304.75L57.37 309.62L51.79 309.62Z" fill="#0a64e6"/>
<path d="M54.76 302.2L57.55 307.07L51.97 307.07Z" fill="#0a64e6"/>
<path d="M54.94 300.57L57.73 305.44L52.15 305.44Z" fill="#0a64e6"/>
<path d="M55.13 299.47L57.92 304.34L52.34 304.34Z" fill="#0a64e6"/>
<path d="M55.31 298.7L58.1 303.57L52.52 303.57Z" fill="#0a64e6"/>
<path d="M55.49 298.14L58.29 303.01L52.7 303.01Z" fill="#0a64e6"/>
<path d="M57.33 296.28L60.12 301.15L54.54 301.15Z" fill="#0a64e6"/>
<path d="M59.17 295.93L61.96 300.8L56.37 300.8Z" fill="#0a64e6"/>
<path d="M61 295.8L63.79 300.68L58.21 300.68Z" fill="#0a64e6"/>
<path d="M62.84 295.75L65.63 300.62L60.05 300.62Z" fill="#0a64e6"/>
<path d="M64.67 295.71L67.46 300.59L61.88 300.59Z" fill="#0a64e6"/>
<path d="M66.51 295.7L69.3 300.57L63.72 300.57Z" fill="#0a64e6"/>
<path d="M68.34 295.68L71.14 300.55L65.55 300.55Z" fill="#0a64e6"/>
<path d="M70.18 295.67L72.97 300.55L67.39 300.55Z" fill="#0a64e6"/>
<path d="M72.02 295.67L74.81 300.54L69.23 300.54Z" fill="#0a64e6"/>
<path d="M90.38 295.65L93.17 300.52L87.58 300.52Z" fill="#0a64e6"/>
<path d="M108.73 295.65L111.52 300.52L105.94 300.52Z" fill="#0a64e6"/>
<path d="M127.09 295.64L129.88 300.52L124.3 300.52Z" fill="#0a64e6"/>
<path d="M145.45 295.64L148.24 300.52L142.66 300.52Z" fill="#0a64e6"/>
<path d="M163.81 295.64L166.6 300.52L161.02 300.52Z" fill="#0a64e6"/>
<path d="M182.17 295.64L184.96 300.52L179.38 300.52Z" fill="#0a64e6"/>
<path d="M200.52 295.64L203.32 300.52L197.73 300.52Z" fill="#0a64e6"/>
<path d="M218.88 295.64L221.67 300.51L216.09 300.51Z" fill="#0a64e6"/>
<path d="M237.24 295.64L240.03 300.51L234.45 300.51Z" fill="#0a64e6"/>
<polyline points="53.66,386.11 53.68,386.11 53.84,386.07 54.03,385.92 54.21,385.68 54.39,385.34 54.58,384.92 54.76,384.41 54.94,383.82 55.13,383.16 55.31,382.44 55.49,381.65 57.33,371.5 59.17,359.82 61,348.54 62.84,338.39 64.67,329.59 66.51,322.1 68.34,315.8 70.18,310.53 72.02,306.12 90.38,286.32 108.73,281.17 127.09,279.2 145.45,278.26 163.81,277.74 182.17,277.42 200.52,277.22 218.88,277.07 237.24,276.97" fill="none" stroke="#4cc88a" stroke-width="0.71"/>
<path d="M53.66 389.04L56.46 384.17L50.87 384.17Z" fill="#0aa650"/>
<path d="M53.68 389.04L56.47 384.16L50.89 384.16Z" fill="#0aa650"/>
<path d="M53.84 388.99L56.63 384.12L51.05 384.12Z" fill="#0aa650"/>
<path d="M54.03 388.84L56.82 383.97L51.23 383.97Z" fill="#0aa650"/>
<path d="M54.21 388.6L57 383.73L51.42 383.73Z" fill="#0aa650"/>
<path d="M54.39 388.27L57.18 383.39L51.6 383.39Z" fill="#0aa650"/>
<path d="M54.58 387.84L57.37 382.97L51.79 382.97Z" fill="#0aa650"/>
<path d="M54.76 387.33L57.55 382.46L51.97 382.46Z" fill="#0aa650"/>
<path d="M54.94 386.75L57.73 381.88L52.15 381.88Z" fill="#0aa650"/>
<path d="M55.13 386.09L57.92 381.22L52.34 381.22Z" fill="#0aa650"/>
<path d="M55.31 385.36L58.1 380.49L52.52 380.49Z" fill="#0aa650"/>
<path d="M55.49 384.57L58.29 379.7L52.7 379.7Z" fill="#0aa650"/>
<path d="M57.33 374.42L60.12 369.55L54.54 369.55Z" fill="#0aa650"/>
<path d="M59.17 362.75L61.96 357.87L56.37 357.87Z" fill="#0aa650"/>
<path d="M61 351.46L63.79 346.59L58.21 346.59Z" fill="#0aa650"/>
<path d="M62.84 341.31L65.63 336.44L60.05 336.44Z" fill="#0aa650"/>
<path d="M64.67 332.51L67.46 327.64L61.88 327.64Z" fill="#0aa650"/>
<path d="M66.51 325.02L69.3 320.15L63.72 320.15Z" fill="#0aa650"/>
<path d="M68.34 318.72L71.14 313.85L65.55 313.85Z" fill="#0aa650"/>
<path d="M70.18 313.45L72.97 308.58L67.39 308.58Z" fill="#0aa650"/>
<path d="M72.02 309.04L74.81 304.17L69.23 304.17Z" fill="#0aa650"/>
<path d="M90.38 289.24L93.17 284.37L87.58 284.37Z" fill="#0aa650"/>
<path d="M108.73 284.09L111.52 279.22L105.94 279.22Z" fill="#0aa650"/>
<path d="M127.09 282.13L129.88 277.25L124.3 277.25Z" fill="#0aa650"/>
<path d="M145.45 281.18L148.24 276.31L142.66 276.31Z" fill="#0aa650"/>
<path d="M163.81 280.66L166.6 275.79L161.02 275.79Z" fill="#0aa650"/>
<path d="M182.17 280.35L184.96 275.47L179.38 275.47Z" fill="#0aa650"/>
<path d="M200.52 280.14L203.32 275.27L197.73 275.27Z" fill="#0aa650"/>
<path d="M218.88 280L221.67 275.12L216.09 275.12Z" fill="#0aa650"/>
<path d="M237.24 279.89L240.03 275.02L234.45 275.02Z" fill="#0aa650"/>
<rect x="35.3" y="237.7" width="220.3" height="175.8" fill="none" stroke="#222" stroke-width="1.1"/>
<path d="M35.3 413.5h3.3M35.3 393.97h1.8M35.3 374.43h3.3M35.3 354.9h1.8M35.3 335.37h3.3M35.3 315.83h1.8M35.3 296.3h3.3M35.3 276.77h1.8M35.3 257.23h3.3M35.3 237.7h1.8M35.3 413.5v-1.8M53.66 413.5v-3.3M72.02 413.5v-1.8M90.38 413.5v-3.3M108.73 413.5v-1.8M127.09 413.5v-3.3M145.45 413.5v-1.8M163.81 413.5v-3.3M182.17 413.5v-1.8M200.52 413.5v-3.3M218.88 413.5v-1.8M237.24 413.5v-3.3M255.6 413.5v-1.8" stroke="#222" stroke-width="1"/>
<text x="31.7" y="415.91" font-size="7.31" text-anchor="end" class="t">0</text>
<text x="31.7" y="376.84" font-size="7.31" text-anchor="end" class="t">500</text>
<text x="31.7" y="337.78" font-size="7.31" text-anchor="end" class="t">1,000</text>
<text x="31.7" y="298.71" font-size="7.31" text-anchor="end" class="t">1,500</text>
<text x="31.7" y="259.64" font-size="7.31" text-anchor="end" class="t">2,000</text>
<text x="53.66" y="423.11" font-size="7.31" text-anchor="middle" class="t">0</text>
<text x="90.38" y="423.11" font-size="7.31" text-anchor="middle" class="t">200</text>
<text x="127.09" y="423.11" font-size="7.31" text-anchor="middle" class="t">400</text>
<text x="163.81" y="423.11" font-size="7.31" text-anchor="middle" class="t">600</text>
<text x="200.52" y="423.11" font-size="7.31" text-anchor="middle" class="t">800</text>
<text x="237.24" y="423.11" font-size="7.31" text-anchor="middle" class="t">1,000</text>
<text x="0" y="0" font-size="9.13" text-anchor="middle" class="t" transform="translate(10.8 325.6) rotate(-90)">Dynamic modulus (MPa)</text>
<text x="145.45" y="436.6" font-size="9.13" text-anchor="middle" class="t">Reduced frequency (Hz)</text>
<text x="129.7" y="467.1" font-size="13.7" text-anchor="middle" class="t">(<tspan font-weight="bold">c</tspan>)</text>
<rect x="127.2" y="363.5" width="121.2" height="38.6" fill="#fff" stroke="#8a8a8a" stroke-width="0.9"/>
<line x1="128.37" y1="368.8" x2="145.63" y2="368.8" stroke="#a0a0a0" stroke-width="0.91"/>
<rect x="134.97" y="366.77" width="4.06" height="4.06" fill="#5a5a5a"/>
<text x="148" y="371.36" font-size="7.75" class="t">Dynamic modulus master curve</text>
<line x1="128.37" y1="378.3" x2="145.63" y2="378.3" stroke="#ff7070" stroke-width="0.91"/>
<circle cx="137" cy="378.3" r="2.49" fill="#ff2a2a"/>
<text x="148" y="380.86" font-size="7.75" class="t">Classic Kelvin model</text>
<line x1="128.37" y1="387.8" x2="145.63" y2="387.8" stroke="#62a0f0" stroke-width="0.91"/>
<path d="M137 384.88L139.79 389.75L134.21 389.75Z" fill="#0a64e6"/>
<text x="148" y="390.36" font-size="7.75" class="t">Classic Maxwell model</text>
<line x1="128.37" y1="397.4" x2="145.63" y2="397.4" stroke="#4cc88a" stroke-width="0.91"/>
<path d="M137 400.32L139.79 395.45L134.21 395.45Z" fill="#0aa650"/>
<text x="148" y="399.96" font-size="7.75" class="t">Three-parameter solid model</text>
<line x1="317.9" y1="399.92" x2="544.5" y2="399.92" stroke="#ececec" stroke-width="0.6"/>
<line x1="317.9" y1="383.29" x2="544.5" y2="383.29" stroke="#d0d0d0" stroke-width="0.8" stroke-dasharray="1 1.1"/>
<line x1="317.9" y1="366.65" x2="544.5" y2="366.65" stroke="#ececec" stroke-width="0.6"/>
<line x1="317.9" y1="350.02" x2="544.5" y2="350.02" stroke="#d0d0d0" stroke-width="0.8" stroke-dasharray="1 1.1"/>
<line x1="317.9" y1="333.39" x2="544.5" y2="333.39" stroke="#ececec" stroke-width="0.6"/>
<line x1="317.9" y1="316.76" x2="544.5" y2="316.76" stroke="#d0d0d0" stroke-width="0.8" stroke-dasharray="1 1.1"/>
<line x1="317.9" y1="300.13" x2="544.5" y2="300.13" stroke="#ececec" stroke-width="0.6"/>
<line x1="317.9" y1="283.5" x2="544.5" y2="283.5" stroke="#d0d0d0" stroke-width="0.8" stroke-dasharray="1 1.1"/>
<line x1="317.9" y1="266.86" x2="544.5" y2="266.86" stroke="#ececec" stroke-width="0.6"/>
<line x1="317.9" y1="250.23" x2="544.5" y2="250.23" stroke="#d0d0d0" stroke-width="0.8" stroke-dasharray="1 1.1"/>
<line x1="336.78" y1="233.6" x2="336.78" y2="416.55" stroke="#d0d0d0" stroke-width="0.8" stroke-dasharray="1 1.1"/>
<line x1="355.67" y1="233.6" x2="355.67" y2="416.55" stroke="#ececec" stroke-width="0.6"/>
<line x1="374.55" y1="233.6" x2="374.55" y2="416.55" stroke="#d0d0d0" stroke-width="0.8" stroke-dasharray="1 1.1"/>
<line x1="393.43" y1="233.6" x2="393.43" y2="416.55" stroke="#ececec" stroke-width="0.6"/>
<line x1="412.32" y1="233.6" x2="412.32" y2="416.55" stroke="#d0d0d0" stroke-width="0.8" stroke-dasharray="1 1.1"/>
<line x1="431.2" y1="233.6" x2="431.2" y2="416.55" stroke="#ececec" stroke-width="0.6"/>
<line x1="450.08" y1="233.6" x2="450.08" y2="416.55" stroke="#d0d0d0" stroke-width="0.8" stroke-dasharray="1 1.1"/>
<line x1="468.97" y1="233.6" x2="468.97" y2="416.55" stroke="#ececec" stroke-width="0.6"/>
<line x1="487.85" y1="233.6" x2="487.85" y2="416.55" stroke="#d0d0d0" stroke-width="0.8" stroke-dasharray="1 1.1"/>
<line x1="506.73" y1="233.6" x2="506.73" y2="416.55" stroke="#ececec" stroke-width="0.6"/>
<line x1="525.62" y1="233.6" x2="525.62" y2="416.55" stroke="#d0d0d0" stroke-width="0.8" stroke-dasharray="1 1.1"/>
<polyline points="337.63,389.94 337.69,383.29 337.75,373.31 337.82,361.67 337.85,358.58 337.88,355.49 337.91,352.4 337.94,349.31 337.96,346.22 337.99,343.13 338.02,340.04 340.56,333.39 341.13,330.06 342.45,327.57 344.34,325.07 346.22,322.58 348.11,320.09 350,317.59 351.89,315.43 353.78,313.27 355.67,311.1 374.55,298.63 393.43,290.81 412.32,284.66 431.2,279.5 450.08,275.51 468.97,271.35 487.85,268.19 506.73,265.2 525.62,262.71" fill="none" stroke="#a0a0a0" stroke-width="0.73"/>
<rect x="335.54" y="387.85" width="4.18" height="4.18" fill="#5a5a5a"/>
<rect x="335.6" y="381.2" width="4.18" height="4.18" fill="#5a5a5a"/>
<rect x="335.66" y="371.22" width="4.18" height="4.18" fill="#5a5a5a"/>
<rect x="335.73" y="359.58" width="4.18" height="4.18" fill="#5a5a5a"/>
<rect x="335.76" y="356.49" width="4.18" height="4.18" fill="#5a5a5a"/>
<rect x="335.79" y="353.4" width="4.18" height="4.18" fill="#5a5a5a"/>
<rect x="335.82" y="350.31" width="4.18" height="4.18" fill="#5a5a5a"/>
<rect x="335.85" y="347.22" width="4.18" height="4.18" fill="#5a5a5a"/>
<rect x="335.87" y="344.13" width="4.18" height="4.18" fill="#5a5a5a"/>
<rect x="335.9" y="341.04" width="4.18" height="4.18" fill="#5a5a5a"/>
<rect x="335.93" y="337.95" width="4.18" height="4.18" fill="#5a5a5a"/>
<rect x="338.47" y="331.3" width="4.18" height="4.18" fill="#5a5a5a"/>
<rect x="339.04" y="327.97" width="4.18" height="4.18" fill="#5a5a5a"/>
<rect x="340.36" y="325.48" width="4.18" height="4.18" fill="#5a5a5a"/>
<rect x="342.25" y="322.99" width="4.18" height="4.18" fill="#5a5a5a"/>
<rect x="344.13" y="320.49" width="4.18" height="4.18" fill="#5a5a5a"/>
<rect x="346.02" y="318" width="4.18" height="4.18" fill="#5a5a5a"/>
<rect x="347.91" y="315.5" width="4.18" height="4.18" fill="#5a5a5a"/>
<rect x="349.8" y="313.34" width="4.18" height="4.18" fill="#5a5a5a"/>
<rect x="351.69" y="311.18" width="4.18" height="4.18" fill="#5a5a5a"/>
<rect x="353.58" y="309.01" width="4.18" height="4.18" fill="#5a5a5a"/>
<rect x="372.46" y="296.54" width="4.18" height="4.18" fill="#5a5a5a"/>
<rect x="391.34" y="288.72" width="4.18" height="4.18" fill="#5a5a5a"/>
<rect x="410.23" y="282.57" width="4.18" height="4.18" fill="#5a5a5a"/>
<rect x="429.11" y="277.41" width="4.18" height="4.18" fill="#5a5a5a"/>
<rect x="447.99" y="273.42" width="4.18" height="4.18" fill="#5a5a5a"/>
<rect x="466.88" y="269.26" width="4.18" height="4.18" fill="#5a5a5a"/>
<rect x="485.76" y="266.1" width="4.18" height="4.18" fill="#5a5a5a"/>
<rect x="504.64" y="263.11" width="4.18" height="4.18" fill="#5a5a5a"/>
<rect x="523.53" y="260.62" width="4.18" height="4.18" fill="#5a5a5a"/>
<polyline points="336.79,359.17 336.8,359.17 336.97,359.17 337.16,359.17 337.35,359.17 337.54,359.17 337.73,359.16 337.92,359.16 338.11,359.16 338.29,359.16 338.48,359.15 338.67,359.15 340.56,359.08 342.45,358.96 344.34,358.8 346.22,358.6 348.11,358.35 350,358.06 351.89,357.72 353.78,357.34 355.67,356.92 374.55,350.64 393.43,341.32 412.32,329.95 431.2,317.22 450.08,303.59 468.97,289.36 487.85,274.7 506.73,259.73 525.62,244.54" fill="none" stroke="#ff7070" stroke-width="0.73"/>
<circle cx="336.79" cy="359.17" r="2.56" fill="#ff2a2a"/>
<circle cx="336.8" cy="359.17" r="2.56" fill="#ff2a2a"/>
<circle cx="336.97" cy="359.17" r="2.56" fill="#ff2a2a"/>
<circle cx="337.16" cy="359.17" r="2.56" fill="#ff2a2a"/>
<circle cx="337.35" cy="359.17" r="2.56" fill="#ff2a2a"/>
<circle cx="337.54" cy="359.17" r="2.56" fill="#ff2a2a"/>
<circle cx="337.73" cy="359.16" r="2.56" fill="#ff2a2a"/>
<circle cx="337.92" cy="359.16" r="2.56" fill="#ff2a2a"/>
<circle cx="338.11" cy="359.16" r="2.56" fill="#ff2a2a"/>
<circle cx="338.29" cy="359.16" r="2.56" fill="#ff2a2a"/>
<circle cx="338.48" cy="359.15" r="2.56" fill="#ff2a2a"/>
<circle cx="338.67" cy="359.15" r="2.56" fill="#ff2a2a"/>
<circle cx="340.56" cy="359.08" r="2.56" fill="#ff2a2a"/>
<circle cx="342.45" cy="358.96" r="2.56" fill="#ff2a2a"/>
<circle cx="344.34" cy="358.8" r="2.56" fill="#ff2a2a"/>
<circle cx="346.22" cy="358.6" r="2.56" fill="#ff2a2a"/>
<circle cx="348.11" cy="358.35" r="2.56" fill="#ff2a2a"/>
<circle cx="350" cy="358.06" r="2.56" fill="#ff2a2a"/>
<circle cx="351.89" cy="357.72" r="2.56" fill="#ff2a2a"/>
<circle cx="353.78" cy="357.34" r="2.56" fill="#ff2a2a"/>
<circle cx="355.67" cy="356.92" r="2.56" fill="#ff2a2a"/>
<circle cx="374.55" cy="350.64" r="2.56" fill="#ff2a2a"/>
<circle cx="393.43" cy="341.32" r="2.56" fill="#ff2a2a"/>
<circle cx="412.32" cy="329.95" r="2.56" fill="#ff2a2a"/>
<circle cx="431.2" cy="317.22" r="2.56" fill="#ff2a2a"/>
<circle cx="450.08" cy="303.59" r="2.56" fill="#ff2a2a"/>
<circle cx="468.97" cy="289.36" r="2.56" fill="#ff2a2a"/>
<circle cx="487.85" cy="274.7" r="2.56" fill="#ff2a2a"/>
<circle cx="506.73" cy="259.73" r="2.56" fill="#ff2a2a"/>
<circle cx="525.62" cy="244.54" r="2.56" fill="#ff2a2a"/>
<polyline points="336.79,414.42 336.8,409.46 336.97,355.04 337.16,323.54 337.35,309.98 337.54,303.62 337.73,300.26 337.92,298.31 338.11,297.08 338.29,296.26 338.48,295.69 338.67,295.28 340.56,293.93 342.45,293.68 344.34,293.59 346.22,293.55 348.11,293.53 350,293.51 351.89,293.5 353.78,293.5 355.67,293.49 374.55,293.48 393.43,293.48 412.32,293.48 431.2,293.48 450.08,293.48 468.97,293.47 487.85,293.47 506.73,293.47 525.62,293.47" fill="none" stroke="#62a0f0" stroke-width="0.73"/>
<path d="M336.79 411.41L339.66 416.43L333.92 416.43Z" fill="#0a64e6"/>
<path d="M336.8 406.45L339.68 411.47L333.93 411.47Z" fill="#0a64e6"/>
<path d="M336.97 352.03L339.85 357.05L334.1 357.05Z" fill="#0a64e6"/>
<path d="M337.16 320.53L340.03 325.54L334.29 325.54Z" fill="#0a64e6"/>
<path d="M337.35 306.97L340.22 311.99L334.48 311.99Z" fill="#0a64e6"/>
<path d="M337.54 300.61L340.41 305.63L334.66 305.63Z" fill="#0a64e6"/>
<path d="M337.73 297.25L340.6 302.27L334.85 302.27Z" fill="#0a64e6"/>
<path d="M337.92 295.3L340.79 300.31L335.04 300.31Z" fill="#0a64e6"/>
<path d="M338.11 294.07L340.98 299.09L335.23 299.09Z" fill="#0a64e6"/>
<path d="M338.29 293.26L341.17 298.27L335.42 298.27Z" fill="#0a64e6"/>
<path d="M338.48 292.69L341.36 297.7L335.61 297.7Z" fill="#0a64e6"/>
<path d="M338.67 292.27L341.55 297.29L335.8 297.29Z" fill="#0a64e6"/>
<path d="M340.56 290.92L343.43 295.94L337.69 295.94Z" fill="#0a64e6"/>
<path d="M342.45 290.67L345.32 295.69L339.57 295.69Z" fill="#0a64e6"/>
<path d="M344.34 290.58L347.21 295.6L341.46 295.6Z" fill="#0a64e6"/>
<path d="M346.22 290.54L349.1 295.55L343.35 295.55Z" fill="#0a64e6"/>
<path d="M348.11 290.52L350.99 295.53L345.24 295.53Z" fill="#0a64e6"/>
<path d="M350 290.5L352.88 295.52L347.13 295.52Z" fill="#0a64e6"/>
<path d="M351.89 290.49L354.76 295.51L349.02 295.51Z" fill="#0a64e6"/>
<path d="M353.78 290.49L356.65 295.5L350.9 295.5Z" fill="#0a64e6"/>
<path d="M355.67 290.48L358.54 295.5L352.79 295.5Z" fill="#0a64e6"/>
<path d="M374.55 290.47L377.42 295.49L371.68 295.49Z" fill="#0a64e6"/>
<path d="M393.43 290.47L396.31 295.48L390.56 295.48Z" fill="#0a64e6"/>
<path d="M412.32 290.47L415.19 295.48L409.44 295.48Z" fill="#0a64e6"/>
<path d="M431.2 290.47L434.07 295.48L428.33 295.48Z" fill="#0a64e6"/>
<path d="M450.08 290.47L452.96 295.48L447.21 295.48Z" fill="#0a64e6"/>
<path d="M468.97 290.47L471.84 295.48L466.09 295.48Z" fill="#0a64e6"/>
<path d="M487.85 290.47L490.72 295.48L484.98 295.48Z" fill="#0a64e6"/>
<path d="M506.73 290.47L509.61 295.48L503.86 295.48Z" fill="#0a64e6"/>
<path d="M525.62 290.47L528.49 295.48L522.74 295.48Z" fill="#0a64e6"/>
<polyline points="336.79,380.14 336.8,380.14 336.97,380.1 337.16,379.95 337.35,379.72 337.54,379.39 337.73,378.97 337.92,378.47 338.11,377.89 338.29,377.23 338.48,376.51 338.67,375.72 340.56,365.32 342.45,353.13 344.34,341.37 346.22,330.93 348.11,322.02 350,314.59 351.89,308.44 353.78,303.37 355.67,299.2 374.55,281.16 393.43,276.66 412.32,274.97 431.2,274.16 450.08,273.71 468.97,273.44 487.85,273.27 506.73,273.14 525.62,273.06" fill="none" stroke="#4cc88a" stroke-width="0.73"/>
<path d="M336.79 383.15L339.66 378.14L333.92 378.14Z" fill="#0aa650"/>
<path d="M336.8 383.15L339.68 378.14L333.93 378.14Z" fill="#0aa650"/>
<path d="M336.97 383.1L339.85 378.09L334.1 378.09Z" fill="#0aa650"/>
<path d="M337.16 382.96L340.03 377.95L334.29 377.95Z" fill="#0aa650"/>
<path d="M337.35 382.73L340.22 377.71L334.48 377.71Z" fill="#0aa650"/>
<path d="M337.54 382.4L340.41 377.38L334.66 377.38Z" fill="#0aa650"/>
<path d="M337.73 381.98L340.6 376.97L334.85 376.97Z" fill="#0aa650"/>
<path d="M337.92 381.48L340.79 376.46L335.04 376.46Z" fill="#0aa650"/>
<path d="M338.11 380.9L340.98 375.88L335.23 375.88Z" fill="#0aa650"/>
<path d="M338.29 380.24L341.17 375.23L335.42 375.23Z" fill="#0aa650"/>
<path d="M338.48 379.52L341.36 374.5L335.61 374.5Z" fill="#0aa650"/>
<path d="M338.67 378.72L341.55 373.71L335.8 373.71Z" fill="#0aa650"/>
<path d="M340.56 368.33L343.43 363.31L337.69 363.31Z" fill="#0aa650"/>
<path d="M342.45 356.14L345.32 351.12L339.57 351.12Z" fill="#0aa650"/>
<path d="M344.34 344.38L347.21 339.37L341.46 339.37Z" fill="#0aa650"/>
<path d="M346.22 333.94L349.1 328.92L343.35 328.92Z" fill="#0aa650"/>
<path d="M348.11 325.03L350.99 320.02L345.24 320.02Z" fill="#0aa650"/>
<path d="M350 317.6L352.88 312.58L347.13 312.58Z" fill="#0aa650"/>
<path d="M351.89 311.45L354.76 306.43L349.02 306.43Z" fill="#0aa650"/>
<path d="M353.78 306.38L356.65 301.37L350.9 301.37Z" fill="#0aa650"/>
<path d="M355.67 302.21L358.54 297.19L352.79 297.19Z" fill="#0aa650"/>
<path d="M374.55 284.17L377.42 279.15L371.68 279.15Z" fill="#0aa650"/>
<path d="M393.43 279.67L396.31 274.65L390.56 274.65Z" fill="#0aa650"/>
<path d="M412.32 277.98L415.19 272.96L409.44 272.96Z" fill="#0aa650"/>
<path d="M431.2 277.17L434.07 272.15L428.33 272.15Z" fill="#0aa650"/>
<path d="M450.08 276.72L452.96 271.71L447.21 271.71Z" fill="#0aa650"/>
<path d="M468.97 276.45L471.84 271.44L466.09 271.44Z" fill="#0aa650"/>
<path d="M487.85 276.28L490.72 271.26L484.98 271.26Z" fill="#0aa650"/>
<path d="M506.73 276.15L509.61 271.14L503.86 271.14Z" fill="#0aa650"/>
<path d="M525.62 276.07L528.49 271.05L522.74 271.05Z" fill="#0aa650"/>
<rect x="317.9" y="233.6" width="226.6" height="182.95" fill="none" stroke="#222" stroke-width="1.1"/>
<path d="M317.9 416.55h3.3M317.9 399.92h1.8M317.9 383.29h3.3M317.9 366.65h1.8M317.9 350.02h3.3M317.9 333.39h1.8M317.9 316.76h3.3M317.9 300.13h1.8M317.9 283.5h3.3M317.9 266.86h1.8M317.9 250.23h3.3M317.9 233.6h1.8M317.9 416.55v-1.8M336.78 416.55v-3.3M355.67 416.55v-1.8M374.55 416.55v-3.3M393.43 416.55v-1.8M412.32 416.55v-3.3M431.2 416.55v-1.8M450.08 416.55v-3.3M468.97 416.55v-1.8M487.85 416.55v-3.3M506.73 416.55v-1.8M525.62 416.55v-3.3M544.5 416.55v-1.8" stroke="#222" stroke-width="1"/>
<text x="314.3" y="419.03" font-size="7.52" text-anchor="end" class="t">0</text>
<text x="314.3" y="385.77" font-size="7.52" text-anchor="end" class="t">200</text>
<text x="314.3" y="352.51" font-size="7.52" text-anchor="end" class="t">400</text>
<text x="314.3" y="319.24" font-size="7.52" text-anchor="end" class="t">600</text>
<text x="314.3" y="285.98" font-size="7.52" text-anchor="end" class="t">800</text>
<text x="314.3" y="252.71" font-size="7.52" text-anchor="end" class="t">1,000</text>
<text x="336.78" y="426.73" font-size="7.52" text-anchor="middle" class="t">0</text>
<text x="374.55" y="426.73" font-size="7.52" text-anchor="middle" class="t">200</text>
<text x="412.32" y="426.73" font-size="7.52" text-anchor="middle" class="t">400</text>
<text x="450.08" y="426.73" font-size="7.52" text-anchor="middle" class="t">600</text>
<text x="487.85" y="426.73" font-size="7.52" text-anchor="middle" class="t">800</text>
<text x="525.62" y="426.73" font-size="7.52" text-anchor="middle" class="t">1,000</text>
<text x="0" y="0" font-size="9.4" text-anchor="middle" class="t" transform="translate(292.8 325.07) rotate(-90)">Dynamic modulus (MPa)</text>
<text x="431.2" y="441.4" font-size="9.4" text-anchor="middle" class="t">Reduced frequency (Hz)</text>
<text x="414.6" y="466.9" font-size="14.11" text-anchor="middle" class="t">(<tspan font-weight="bold">d</tspan>)</text>
<rect x="410.3" y="363.8" width="124.4" height="40.3" fill="#fff" stroke="#8a8a8a" stroke-width="0.9"/>
<line x1="411.72" y1="369.4" x2="429.48" y2="369.4" stroke="#a0a0a0" stroke-width="0.94"/>
<rect x="418.51" y="367.31" width="4.18" height="4.18" fill="#5a5a5a"/>
<text x="432" y="372.04" font-size="8" class="t">Dynamic modulus master curve</text>
<line x1="411.72" y1="379.2" x2="429.48" y2="379.2" stroke="#ff7070" stroke-width="0.94"/>
<circle cx="420.6" cy="379.2" r="2.56" fill="#ff2a2a"/>
<text x="432" y="381.84" font-size="8" class="t">Classic Kelvin model</text>
<line x1="411.72" y1="389" x2="429.48" y2="389" stroke="#62a0f0" stroke-width="0.94"/>
<path d="M420.6 385.99L423.47 391.01L417.73 391.01Z" fill="#0a64e6"/>
<text x="432" y="391.64" font-size="8" class="t">Classic Maxwell model</text>
<line x1="411.72" y1="398.8" x2="429.48" y2="398.8" stroke="#4cc88a" stroke-width="0.94"/>
<path d="M420.6 401.81L423.47 396.79L417.73 396.79Z" fill="#0aa650"/>
<text x="432" y="401.44" font-size="8" class="t">Three-parameter solid model</text>
</svg>
</body></html>
